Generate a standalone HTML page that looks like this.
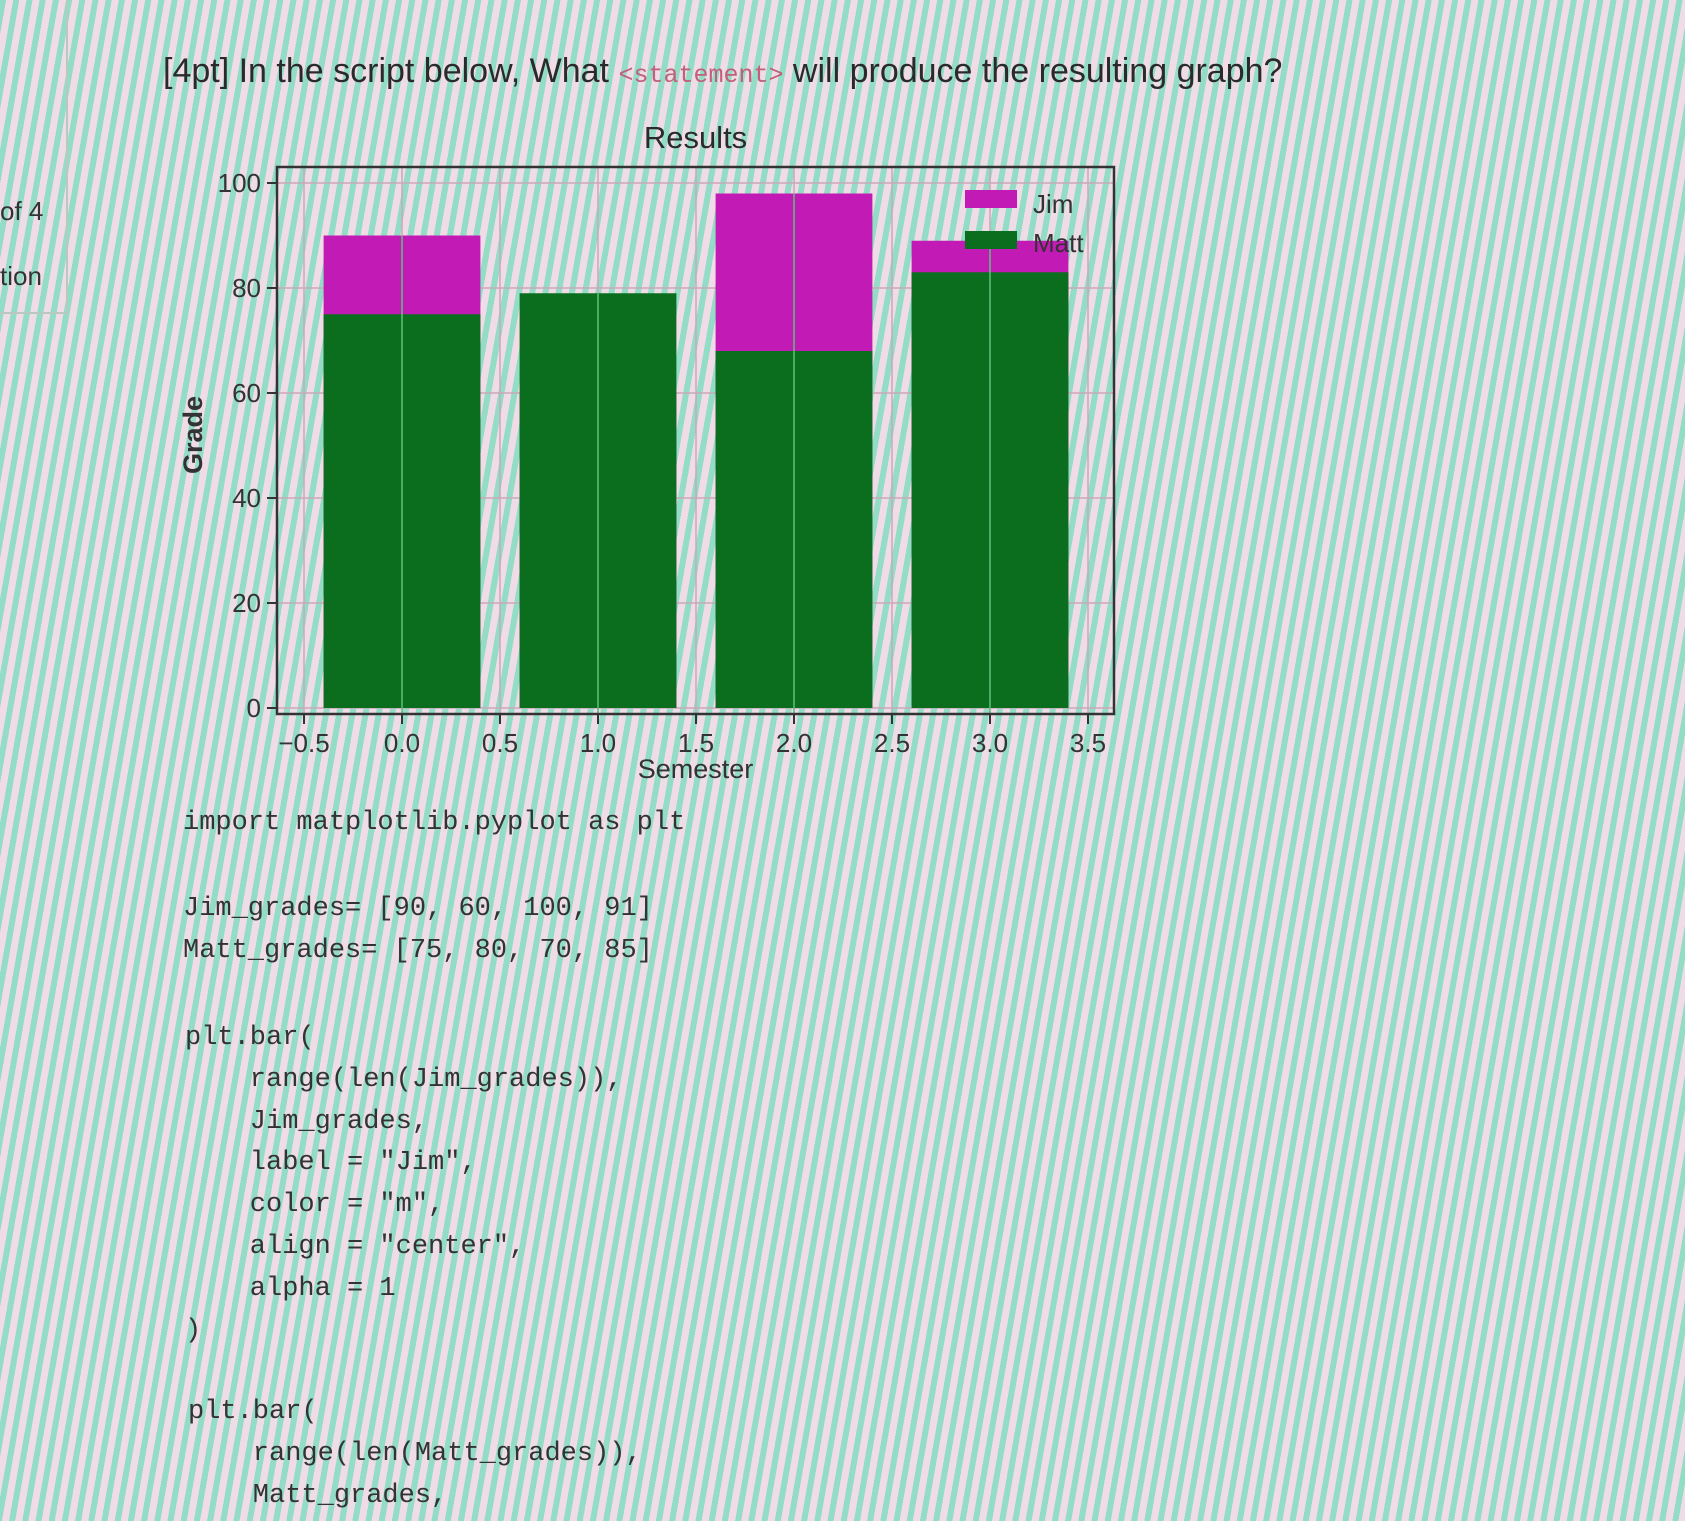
<!DOCTYPE html>
<html><head><meta charset="utf-8">
<style>
html,body{margin:0;padding:0}
body{width:1685px;height:1521px;overflow:hidden;position:relative;
background:repeating-linear-gradient(100deg,#93dcc6 0 6px,#f0dce6 6px 13px);font-family:"Liberation Sans",sans-serif;color:#333}
.t{position:absolute;white-space:pre}
.code{position:absolute;font-family:"Liberation Mono",monospace;font-size:27px;color:#333;white-space:pre}
</style></head><body>
<div class="t" style="left:0;top:0;width:66px;height:312px;border-right:2px solid #b9c9c2;border-bottom:2px solid #b9c9c2"></div>
<div class="t" style="left:0;top:196px;font-size:26px">of 4</div>
<div class="t" style="left:0;top:261px;font-size:26px">tion</div>
<div class="t" style="left:163px;top:52px;font-size:34px;color:#2a2a2a">[4pt] In the script below, What <span style="font-family:'Liberation Mono',monospace;font-size:25px;color:#c0607a">&lt;statement&gt;</span> will produce the resulting graph?</div>

<svg id="chart" width="1685" height="800" style="position:absolute;left:0;top:0"></svg>

<div class="code" style="left:183px;top:808px">import matplotlib.pyplot as plt</div>
<div class="code" style="left:183px;top:894px">Jim_grades= [90, 60, 100, 91]</div>
<div class="code" style="left:183px;top:936px">Matt_grades= [75, 80, 70, 85]</div>
<div class="code" style="left:185px;top:1018px;line-height:41.8px">plt.bar(
    range(len(Jim_grades)),
    Jim_grades,
    label = "Jim",
    color = "m",
    align = "center",
    alpha = 1
)</div>
<div class="code" style="left:188px;top:1391px;line-height:42px">plt.bar(
    range(len(Matt_grades)),
    Matt_grades,</div>

<script>
const categories=[0,1,2,3];
const jimValues=[90,60,98,89];
const mattValues=[75,79,68,83];
const yTicks=[0,20,40,60,80,100];
const xTicks=[-0.5,0,0.5,1,1.5,2,2.5,3,3.5];
const svg=document.getElementById('chart');
const NS='http://www.w3.org/2000/svg';
const L=277,R=1114,T=167,B=714;
function xs(v){return 402+v*196;}
function ys(v){return 708-v*5.25;}
function mk(tag,attrs,parent){const e=document.createElementNS(NS,tag);for(const k in attrs)e.setAttribute(k,attrs[k]);(parent||svg).appendChild(e);return e;}
const bg=mk('rect',{x:L,y:T,width:R-L,height:B-T,fill:'none'});


yTicks.forEach(v=>{
 const g=mk('line',{x1:L,x2:R,y1:ys(v),y2:ys(v),stroke:'#c9a8b8','stroke-width':1.5});
 
 
 mk('line',{x1:L-10,x2:L,y1:ys(v),y2:ys(v),stroke:'#333','stroke-width':2});
 const t=mk('text',{x:L-16,y:ys(v)+9,'text-anchor':'end','font-size':26,fill:'#333','font-family':'Liberation Sans'});
 t.textContent=v;
 
 
});
xTicks.forEach(v=>{
 const g=mk('line',{x1:xs(v),x2:xs(v),y1:T,y2:B,stroke:'#c9a8b8','stroke-width':1.5});
 
 
 mk('line',{x1:xs(v),x2:xs(v),y1:B,y2:B+10,stroke:'#333','stroke-width':2});
 const t=mk('text',{x:xs(v),y:B+38,'text-anchor':'middle','font-size':26,fill:'#333','font-family':'Liberation Sans'});
 t.textContent=v<0?'\u2212'+Math.abs(v).toFixed(1):v.toFixed(1);
 
 
});
categories.forEach((c,i)=>{
 const x0=xs(c-0.4),w=xs(c+0.4)-x0;
 const j=mk('rect',{x:x0,y:ys(jimValues[i]),width:w,height:ys(0)-ys(jimValues[i]),fill:'#c21ab4'});
 
 
 const m=mk('rect',{x:x0,y:ys(mattValues[i]),width:w,height:ys(0)-ys(mattValues[i]),fill:'#0a6e1e'});
 
 
 mk('line',{x1:xs(c),x2:xs(c),y1:ys(Math.max(jimValues[i],mattValues[i])),y2:B,stroke:'#5cc07a','stroke-width':1.5});
});
const fr=mk('rect',{x:L,y:T,width:R-L,height:B-T,fill:'none',stroke:'#333','stroke-width':2.5});


const title=mk('text',{x:(L+R)/2,y:148,'text-anchor':'middle','font-size':31,fill:'#2a2a2a','font-family':'Liberation Sans'});
title.textContent='Results';


const xl=mk('text',{x:(L+R)/2,y:778,'text-anchor':'middle','font-size':27,fill:'#333','font-family':'Liberation Sans'});
xl.textContent='Semester';


const yl=mk('text',{x:0,y:0,'text-anchor':'middle','font-size':27,'font-weight':'bold',fill:'#333','font-family':'Liberation Sans',transform:'translate(202,435) rotate(-90)'});
yl.textContent='Grade';


const lg=mk('g',{});


mk('rect',{x:965,y:190,width:52,height:18,fill:'#c21ab4'},lg);
mk('rect',{x:965,y:231,width:52,height:18,fill:'#0a6e1e'},lg);
const l1=mk('text',{x:1033,y:213,'font-size':26,fill:'#333','font-family':'Liberation Sans'},lg);
l1.textContent='Jim';


const l2=mk('text',{x:1033,y:252,'font-size':26,fill:'#333','font-family':'Liberation Sans'},lg);
l2.textContent='Matt';


</script>
</body></html>
